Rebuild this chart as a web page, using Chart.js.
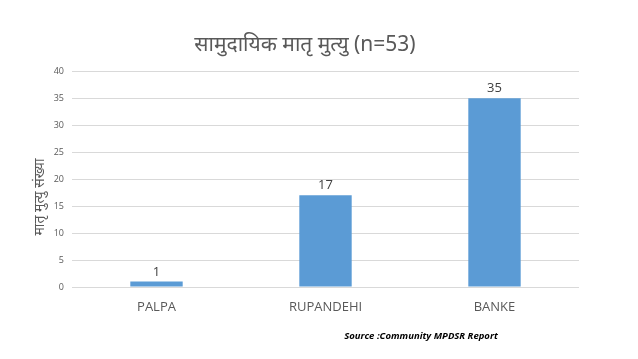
<!DOCTYPE html>
<html>
<head>
<meta charset="utf-8">
<script src="https://cdn.jsdelivr.net/npm/chart.js@4/dist/chart.umd.min.js"></script>
<style>
  html, body { margin: 0; padding: 0; background: #fff; }
  #wrap { width: 638px; height: 359px; }
</style>
</head>
<body>
<div id="wrap"><canvas id="myChart" width="638" height="359"></canvas></div>
<script>
const districts = ['PALPA', 'RUPANDEHI', 'BANKE'];
const deaths = [1, 17, 35];
const yTicks = { min: 0, max: 40, step: 5 };

const titleText = 'सामुदायिक मातृ मुत्यु (n=53)';
const yTitleText = 'मातृ मुत्यु संख्या';
const sourceText = 'Source :Community MPDSR Report';

const devFont = "'Noto Sans', 'Noto Sans Devanagari', 'Lohit Devanagari', sans-serif";

// value labels above bars, plus rotated axis title and source note
const extras = {
  id: 'extras',
  afterDatasetsDraw(chart) {
    const { ctx } = chart;
    const meta = chart.getDatasetMeta(0);
    ctx.save();
    ctx.fillStyle = '#404040';
    ctx.font = "13px 'Open Sans', sans-serif";
    ctx.textAlign = 'center';
    ctx.textBaseline = 'bottom';
    meta.data.forEach((bar, i) => {
      ctx.fillText(String(deaths[i]), bar.x, bar.y - 3);
    });
    ctx.restore();
  },
  afterDraw(chart) {
    const { ctx } = chart;
    ctx.save();
    ctx.fillStyle = '#595959';
    ctx.font = '14px ' + devFont;
    ctx.translate(40, 197);
    ctx.rotate(-Math.PI / 2);
    ctx.textAlign = 'center';
    ctx.textBaseline = 'middle';
    ctx.fillText(yTitleText, 0, 0);
    ctx.restore();

    ctx.save();
    ctx.fillStyle = '#000';
    ctx.font = "italic bold 9.5px 'Open Sans', sans-serif";
    ctx.textAlign = 'center';
    ctx.textBaseline = 'middle';
    ctx.fillText(sourceText, 421, 336);
    ctx.restore();
  }
};

new Chart(document.getElementById('myChart'), {
  type: 'bar',
  data: {
    labels: districts,
    datasets: [{
      data: deaths,
      backgroundColor: '#5b9bd5',
      categoryPercentage: 1,
      barPercentage: 0.31,
    }],
  },
  options: {
    responsive: false,
    animation: false,
    layout: { padding: { left: 31, right: 59, top: 0, bottom: 32 } },
    plugins: {
      legend: { display: false },
      tooltip: { enabled: false },
      title: {
        display: true,
        text: titleText,
        color: '#595959',
        font: { family: devFont, size: 21, weight: 'normal' },
        padding: { top: 32, bottom: 14 },
      },
    },
    scales: {
      x: {
        grid: { display: false },
        border: { display: false },
        ticks: { color: '#595959', font: { family: "'Open Sans', sans-serif", size: 13 }, padding: 4 },
        afterFit: s => { s.height = 40; },
      },
      y: {
        min: yTicks.min,
        max: yTicks.max,
        grid: { color: '#d9d9d9', drawTicks: false },
        border: { display: false },
        ticks: {
          stepSize: yTicks.step,
          color: '#595959',
          font: { family: "'Open Sans', sans-serif", size: 9 },
          padding: 8,
        },
        afterFit: s => { s.width = 41; },
      },
    },
  },
  plugins: [extras],
});
</script>
</body>
</html>
